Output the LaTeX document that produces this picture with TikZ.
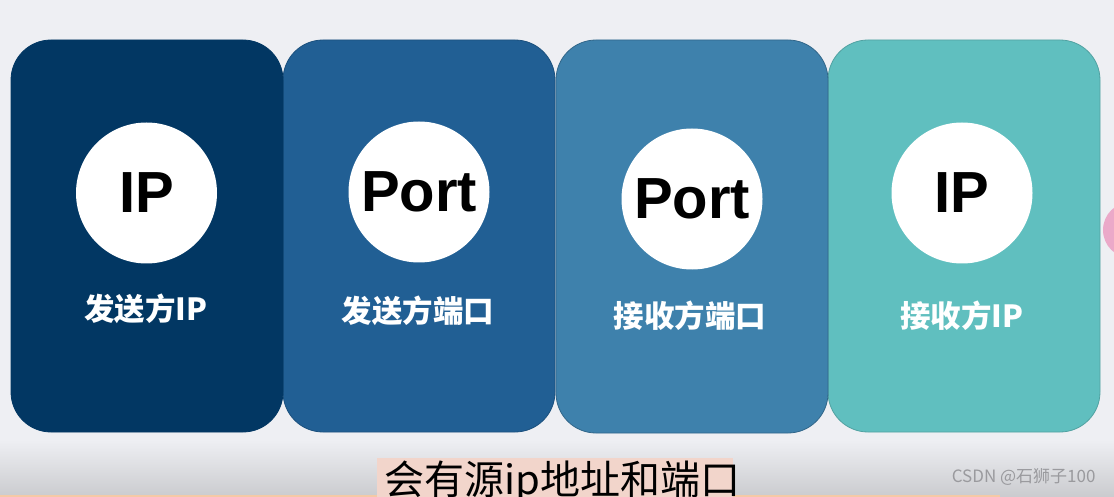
\documentclass[tikz,border=0pt]{standalone}
\usepackage{fontspec}
\setmainfont{Liberation Sans}
\newfontfamily\cjk{Noto Sans CJK SC}
\newfontfamily\latb{Liberation Sans}
\definecolor{bgc}{HTML}{EEEFF3}
\definecolor{cardA}{HTML}{023763}
\definecolor{cardB}{HTML}{215F94}
\definecolor{cardC}{HTML}{3E81AC}
\definecolor{cardD}{HTML}{60BFBF}
\definecolor{capbg}{HTML}{F2D5CB}
\definecolor{orangeline}{HTML}{F5C9A6}
\definecolor{pinkc}{HTML}{EBA9C9}
\definecolor{wmgray}{HTML}{9A9A9E}
\begin{document}
\begin{tikzpicture}[x=1pt,y=-1pt,
  card/.style={rounded corners=40pt, line width=0.8pt},
  disc/.style={circle, fill=white, minimum size=141pt, inner sep=0pt},
  disctext/.style={font=\latb\bfseries\fontsize{58}{58}\selectfont, text=black},
  cardlabel/.style={font=\cjk\bfseries\fontsize{30.5}{30.5}\selectfont, text=white},
  caption/.style={font=\cjk\fontsize{40}{40}\selectfont, text=black},
  wm/.style={font=\cjk\fontsize{17}{17}\selectfont, text=wmgray}]
\useasboundingbox (0,0) rectangle (1114,497);
\clip (0,0) rectangle (1114,497);
\fill[bgc] (0,0) rectangle (1114,497);
\shade[top color=bgc, bottom color=black!15!bgc] (0,440) rectangle (1114,497);
% pink floating button
\fill[pinkc] (1131,230) circle (28);
% cards
\draw[card, fill=cardD, draw=cardD!85!black] (828,40) rectangle (1100,432);
\draw[card, fill=cardC, draw=cardC!80!black] (556,40) rectangle (828,433);
\draw[card, fill=cardB, draw=cardB!85!black] (283,40) rectangle (555,432);
\draw[card, fill=cardA, draw=cardA] (11,40) rectangle (283,432);
% discs
\node[disc] (d1) at (146.5,193) {};
\node[disctext] (t1) at (d1.center) {IP};
\node[disc] (d2) at (419,192) {};
\node[disctext] (t2) at (d2.center) {Port};
\node[disc] (d3) at (692,199) {};
\node[disctext] (t3) at (d3.center) {Port};
\node[disc] (d4) at (962,193) {};
\node[disctext] (t4) at (d4.center) {IP};
% labels
\node[cardlabel] (l1) at (146,309) {发送方IP};
\node[cardlabel] (l2) at (418,311) {发送方端口};
\node[cardlabel] (l3) at (690,316) {接收方端口};
\node[cardlabel] (l4) at (962,316) {接收方IP};
% caption
\fill[orangeline] (0,494.5) rectangle (1000,497);
\fill[capbg] (377,458) rectangle (733,497);
\node[caption, anchor=west] (cap) at (381,482) {会有源ip地址和端口};
% watermark
\node[wm, anchor=east] (w) at (1099,477) {CSDN @石狮子100};
\end{tikzpicture}
\end{document}
